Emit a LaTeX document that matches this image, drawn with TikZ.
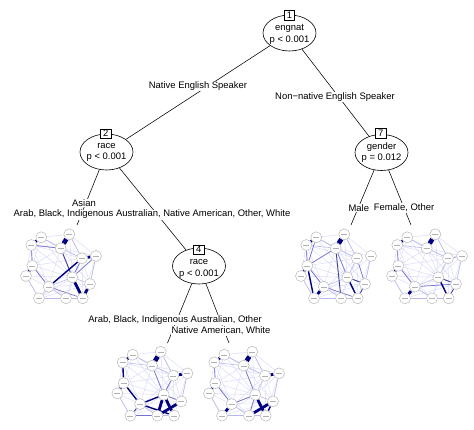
\documentclass[tikz,border=0pt]{standalone}
\usepackage{fontspec}
\setmainfont{Liberation Sans}
\usetikzlibrary{shapes.geometric,backgrounds}
\definecolor{navyedge}{rgb}{0.0,0.0,0.5}
\definecolor{paleedge}{rgb}{0.86,0.86,0.98}
\definecolor{softedge}{rgb}{0.72,0.72,0.94}
\definecolor{midedge}{rgb}{0.45,0.45,0.82}
\definecolor{ringgray}{gray}{0.7}
\tikzset{
  x=1pt,y=-1pt,
  treefont/.style={font=\fontsize{9.45}{11.2}\selectfont},
  split/.style={ellipse,draw,line width=0.6pt,fill=white,minimum width=53pt,minimum height=36pt,inner sep=0pt},
  splittext/.style={treefont,align=center,inner sep=0pt},
  idbox/.style={rectangle,draw,line width=0.6pt,fill=white,treefont,minimum width=10.5pt,minimum height=9.6pt,inner sep=0pt},
  link/.style={line width=0.55pt},
  lab/.style={treefont,fill=white,inner sep=0.6pt},
  vert/.style={circle,draw=ringgray,line width=0.45pt,fill=white,minimum size=11pt,inner sep=0pt},
  e1/.style={paleedge,line width=0.5pt},
  e2/.style={softedge,line width=0.6pt},
  e3/.style={midedge,line width=0.7pt},
  e4/.style={navyedge!75!white,line width=0.9pt},
  e5/.style={navyedge,line width=1.4pt},
  e6/.style={navyedge,line width=2.8pt},
  e7/.style={navyedge,line width=4.6pt},
}
\newcommand{\netverts}[3]{%
  \foreach \n/\x/\y in {1/69.3/234.3,2/41.3/237.3,3/31.3/245,4/60.7/248.3,5/96/256,6/82/258.3,7/32.3/265.7,8/26/276,9/72.3/277.3,10/90/284,11/48.7/286.7,12/39/298.3,13/66/298.3,14/82.7/298.3}{
    \node[vert] (#1\n) at ({\x+#2},{\y+#3}) {\textcolor{gray!60}{\rule{6pt}{0.4pt}}};
  }%
}
\newcommand{\netedges}[3]{%
  \begin{scope}[on background layer]
  \foreach \a/\b in {#3}{\draw[#2] (#1\a) -- (#1\b);}
  \end{scope}%
}
\newcommand{\paleset}[1]{%
  \netedges{#1}{e1}{1/2,1/5,1/6,1/9,2/4,2/6,2/7,3/6,3/9,3/11,4/5,4/7,4/10,4/11,4/14,5/9,5/10,5/14,6/10,6/12,7/6,7/9,7/13,8/11,8/12,8/9,9/12,9/13,10/11,10/12,11/13,12/13,13/14,3/8,2/9,6/13,6/14}%
  \netedges{#1}{e2}{1/6,2/4,3/4,3/7,4/6,5/10,6/9,7/11,8/12,11/12,9/10,12/13,13/14,11/13,9/11}%
}
\begin{document}
\begin{tikzpicture}
\useasboundingbox (0,0) rectangle (474,429);
% ---------- networks
\netverts{a}{0}{0}
\netverts{b}{91.4}{117.4}
\netverts{c}{183}{117.4}
\netverts{d}{275}{0}
\netverts{f}{366}{0}
\paleset{a}\paleset{b}\paleset{c}\paleset{d}\paleset{f}
% Asian
\netedges{a}{e3}{3/7,7/11,11/14,3/4,6/9,9/5}
\netedges{a}{e4}{4/9}
\netedges{a}{e5}{6/11}
\netedges{a}{e6}{7/8,2/3,9/14,10/14,6/5}
\netedges{a}{e7}{1/4}
% lower left
\netedges{b}{e3}{4/9,12/13,6/9,9/10}
\netedges{b}{e4}{11/12}
\netedges{b}{e5}{3/7,7/11,11/14,11/9}
\netedges{b}{e6}{2/3,7/8,6/5,9/13,9/14,10/13}
\netedges{b}{e7}{1/4}
% lower right
\netedges{c}{e3}{3/7,7/11,11/9,4/9,9/13}
\netedges{c}{e5}{10/14}
\netedges{c}{e6}{2/3,7/8,6/5,11/12,9/14,10/13}
\netedges{c}{e7}{1/4}
% male
\netedges{d}{e3}{2/7,3/7,4/7,7/11,11/14,6/10,4/9}
\netedges{d}{e4}{4/13,9/10,10/14}
\netedges{d}{e5}{7/12,9/14}
\netedges{d}{e6}{2/3,7/8,11/12}
\netedges{d}{e7}{1/4}
% female
\netedges{f}{e3}{3/7,7/11,11/10,5/6}
\netedges{f}{e4}{9/10,10/14}
\netedges{f}{e5}{9/14}
\netedges{f}{e6}{2/3,7/8,11/12}
\netedges{f}{e7}{1/4}
% ---------- tree
\node[split] (s1) at (289.5,33) {};
\node[split] (s2) at (106.5,152) {};
\node[split] (s4) at (199,266) {};
\node[split] (s7) at (381.5,152.5) {};
\coordinate (leafa) at (77,225);
\coordinate (leafb) at (167.5,343);
\coordinate (leafc) at (229,343);
\coordinate (leafd) at (351,225);
\coordinate (leafe) at (411,225);
\draw[link] (s1) -- (s2);
\draw[link] (s1) -- (s7);
\draw[link] (s2) -- (leafa);
\draw[link] (s2) -- (s4);
\draw[link] (s4) -- (leafb);
\draw[link] (s4) -- (leafc);
\draw[link] (s7) -- (leafd);
\draw[link] (s7) -- (leafe);
\node[splittext] (t1) at (289.5,34.5) {engnat\\p < 0.001};
\node[splittext] (t2) at (106.5,152.3) {race\\p < 0.001};
\node[splittext] (t4) at (199,269) {race\\p < 0.001};
\node[splittext] (t7) at (381.5,152.3) {gender\\p = 0.012};
\node[idbox] (b1) at (289.5,15) {1};
\node[idbox] (b2) at (105.7,133.6) {2};
\node[idbox] (b4) at (198.7,249.7) {4};
\node[idbox] (b7) at (380.7,133) {7};
\node[lab] (l1) at (198,86) {Native English Speaker};
\node[lab] (l2) at (335,97) {Non−native English Speaker};
\node[lab] (l3) at (84,203) {Asian};
\node[lab] (l4) at (152,214.5) {Arab, Black, Indigenous Australian, Native American, Other, White};
\node[lab] (l5) at (175,320) {Arab, Black, Indigenous Australian, Other};
\node[lab] (l6) at (221,331) {Native American, White};
\node[lab] (l7) at (358.8,208) {Male};
\node[lab] (l8) at (404,208) {Female, Other};
\end{tikzpicture}
\end{document}
